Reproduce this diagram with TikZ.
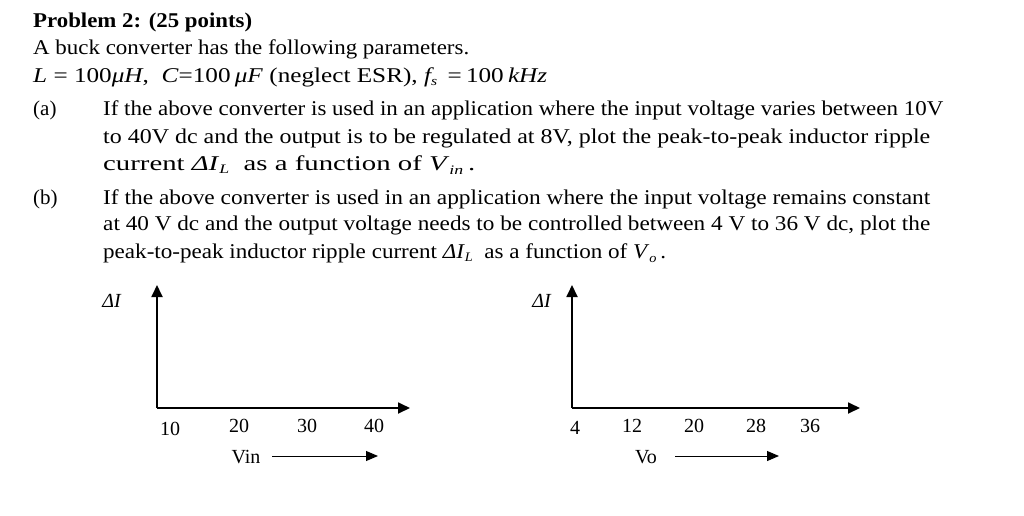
\documentclass[tikz,border=0pt]{standalone}
\usepackage{fontspec}
\setmainfont{Liberation Serif}
\usetikzlibrary{arrows.meta}
\newcommand{\fitw}[2]{\resizebox{#1}{\height}{#2}}
\newcommand{\DI}{\textit{ΔI}}
\begin{document}
\begin{tikzpicture}[x=1pt,y=-1pt,
 txt/.style={anchor=base west,inner sep=0pt,font=\fontsize{21}{23}\selectfont},
 ax/.style={line width=1.8pt,-{Triangle[length=12pt,width=11pt]}},
 lab/.style={anchor=base,inner sep=0pt,font=\fontsize{20}{22}\selectfont}]
\useasboundingbox (0,0) rectangle (1024,516);
\node[txt,font=\fontsize{21}{23}\selectfont\bfseries] (t0) at (33,28) {\fitw{219pt}{Problem 2: (25 points)}};
\node[txt] (t1) at (33,55) {\fitw{436pt}{A buck converter has the following parameters.}};
\node[txt] (t2) at (33,83) {\fitw{514pt}{\textit{L} = 100\textit{μH},\ \ \textit{C}=100\,\textit{μF} (neglect ESR), \textit{f\raisebox{-3pt}{\fontsize{13}{13}\selectfont s}}\ \,=\,100\,\textit{kHz}}};
\node[txt] (a) at (33,116) {(a)};
\node[txt] (a1) at (103,116) {\fitw{840pt}{If the above converter is used in an application where the input voltage varies between 10V}};
\node[txt] (a2) at (103,143) {\fitw{827pt}{to 40V dc and the output is to be regulated at 8V, plot the peak-to-peak inductor ripple}};
\node[txt] (a3) at (103,170) {\fitw{372pt}{current \DI\raisebox{-3pt}{\fontsize{13}{13}\selectfont\textit{L}}\ \ as a function of \textit{V}\raisebox{-4pt}{\fontsize{13}{13}\selectfont\textit{in}}\,.}};
\node[txt] (b) at (33,204) {(b)};
\node[txt] (b1) at (103,204) {\fitw{827pt}{If the above converter is used in an application where the input voltage remains constant}};
\node[txt] (b2) at (103,230) {\fitw{827pt}{at 40 V dc and the output voltage needs to be controlled between 4 V to 36 V dc, plot the}};
\node[txt] (b3) at (103,258) {\fitw{563pt}{peak-to-peak inductor ripple current \DI\raisebox{-3pt}{\fontsize{13}{13}\selectfont\textit{L}}\ \ as a function of \textit{V}\raisebox{-4pt}{\fontsize{13}{13}\selectfont\textit{o}}\,.}};
% graph 1
\coordinate (o1) at (157,408);
\coordinate (y1) at (157,285);
\coordinate (x1) at (410,408);
\draw[ax] (o1) -- (y1);
\draw[ax] (o1) -- (x1);
\node[lab] (d1) at (112,307) {\DI};
\node[lab] (l10) at (170,435) {10};
\node[lab] (l20) at (239,432) {20};
\node[lab] (l30) at (307,432) {30};
\node[lab] (l40) at (374,432) {40};
\node[lab] (vin) at (246,463) {Vin};
\coordinate (v1s) at (272,456); \coordinate (v1e) at (378,456);
\draw[line width=1pt,-{Triangle[length=12pt,width=10pt]}] (v1s) -- (v1e);
% graph 2
\coordinate (o2) at (572,408);
\coordinate (y2) at (572,285);
\coordinate (x2) at (860,408);
\draw[ax] (o2) -- (y2);
\draw[ax] (o2) -- (x2);
\node[lab] (d2) at (542,307) {\DI};
\node[lab] (m4) at (575,434) {4};
\node[lab] (m12) at (632,432) {12};
\node[lab] (m20) at (694,432) {20};
\node[lab] (m28) at (756,432) {28};
\node[lab] (m36) at (810,432) {36};
\node[lab] (vo) at (646,463) {Vo};
\coordinate (v2s) at (675,456); \coordinate (v2e) at (779,456);
\draw[line width=1pt,-{Triangle[length=12pt,width=10pt]}] (v2s) -- (v2e);
\end{tikzpicture}
\end{document}
